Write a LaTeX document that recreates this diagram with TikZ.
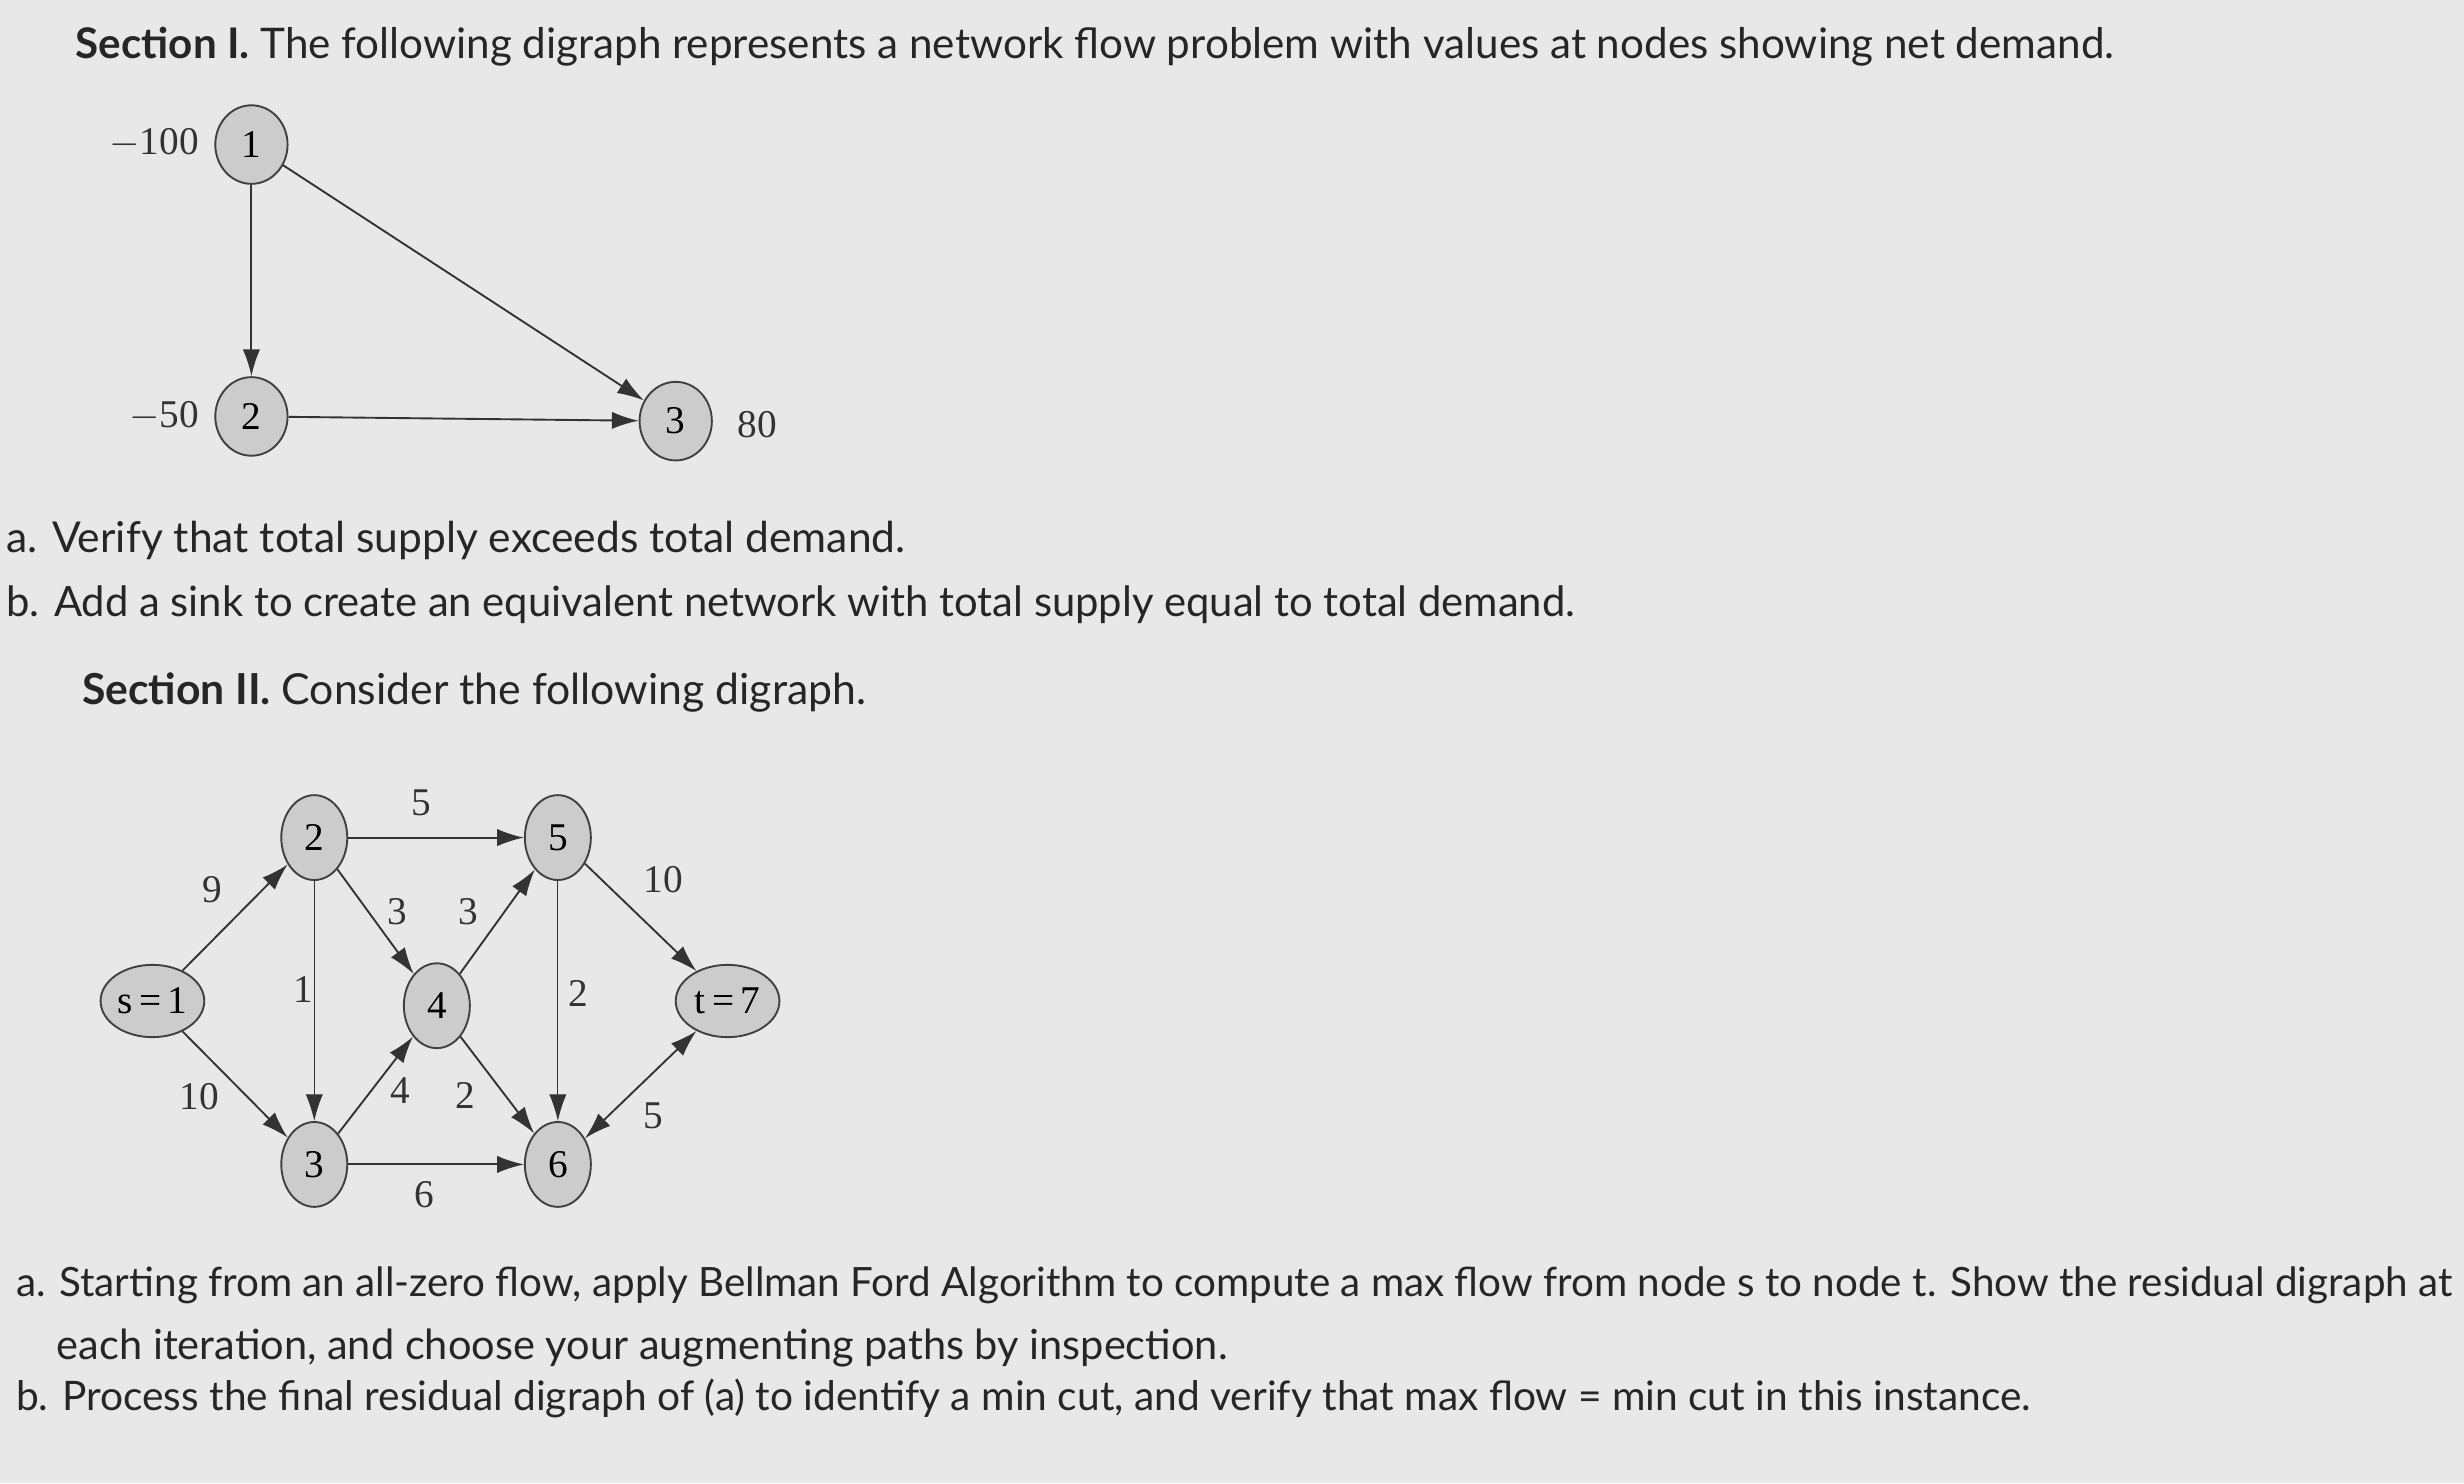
\documentclass[tikz,border=0pt]{standalone}
\usepackage{fontspec}
\setmainfont{Lato}
\newfontfamily\gser{Liberation Serif}
\usetikzlibrary{arrows.meta,shapes.geometric}
\newcommand{\fitw}[2]{\resizebox{#1pt}{!}{#2}}
\tikzset{
 gnode/.style={ellipse, draw=black!75, fill=black!20, line width=1.2pt, inner sep=1pt, minimum width=46pt, minimum height=50pt, font=\gser\fontsize{25}{25}\selectfont},
 gnode2/.style={gnode, minimum width=42pt, minimum height=54pt},
 arc/.style={-{Latex[length=17pt,width=11pt]}, line width=1.2pt, black!80},
 lab/.style={font=\gser\fontsize{25}{25}\selectfont, text=black!80},
 txt/.style={anchor=west, inner sep=0pt, text=black!85}
}
\begin{document}
\begin{tikzpicture}[x=1pt,y=-1pt]
\useasboundingbox[fill=black!9] (0,0) rectangle (1568,944);
% Section I
\node[txt] (t1) at (48,30) {\fitw{1297}{\textbf{Section I.} The following digraph represents a network flow problem with values at nodes showing net demand.}};
\node[gnode] (n1) at (160,92) {1};
\node[gnode] (n2) at (160,265) {2};
\node[gnode] (n3) at (430,268) {3};
\node[lab,anchor=east] (l1) at (130,91) {$-$100};
\node[lab,anchor=east] (l2) at (130,265) {$-$50};
\node[lab,anchor=west] (l3) at (466,270) {80};
\draw[arc] (n1) -- (n2);
\draw[arc] (n1) -- (n3);
\draw[arc] (n2) -- (n3);
\node[txt] (ta) at (4,344) {\fitw{572}{a. Verify that total supply exceeds total demand.}};
\node[txt] (tb) at (4,385) {\fitw{998}{b. Add a sink to create an equivalent network with total supply equal to total demand.}};
\node[txt] (t2) at (52,441) {\fitw{499}{\textbf{Section II.} Consider the following digraph.}};
% Section II
\node[gnode2, minimum width=66pt, minimum height=46pt] (s) at (97,637) {s\,=\,1};
\node[gnode2] (v2) at (200,533) {2};
\node[gnode2] (v5) at (355,533) {5};
\node[gnode2] (v4) at (278,640) {4};
\node[gnode2, minimum width=66pt, minimum height=46pt] (t) at (463,637) {t\,=\,7};
\node[gnode2] (v3) at (200,741) {3};
\node[gnode2] (v6) at (355,741) {6};
\draw[arc] (s) -- (v2);
\draw[arc] (s) -- (v3);
\draw[arc] (v2) -- (v5);
\draw[arc,line width=0.8pt] (v2) -- (v3);
\draw[arc] (v2) -- (v4);
\draw[arc] (v4) -- (v5);
\draw[arc] (v3) -- (v4);
\draw[arc] (v4) -- (v6);
\draw[arc,line width=0.8pt] (v5) -- (v6);
\draw[arc] (v3) -- (v6);
\draw[arc] (v5) -- (t);
\draw[arc,{Latex[length=17pt,width=11pt]}-{Latex[length=17pt,width=11pt]}] (v6) -- (t);
\node[lab] (c1) at (135,566) {9};
\node[lab] (c2) at (127,698) {10};
\node[lab] (c3) at (268,511) {5};
\node[lab] (c4) at (193,630) {1};
\node[lab] (c5) at (253,580) {3};
\node[lab] (c6) at (298,580) {3};
\node[lab] (c7) at (422,560) {10};
\node[lab] (c8) at (368,632) {2};
\node[lab] (c9) at (255,694) {4};
\node[lab] (c10) at (296,697) {2};
\node[lab] (c11) at (416,710) {5};
\node[lab] (c12) at (270,760) {6};
% questions
\node[txt] (qa) at (10,818) {\fitw{1550}{a. Starting from an all-zero flow, apply Bellman Ford Algorithm to compute a max flow from node s to node t. Show the residual digraph at}};
\node[txt] (qa2) at (36,858) {\fitw{745}{each iteration, and choose your augmenting paths by inspection.}};
\node[txt] (qb) at (10,890) {\fitw{1282}{b. Process the final residual digraph of (a) to identify a min cut, and verify that max flow = min cut in this instance.}};
\end{tikzpicture}
\end{document}
